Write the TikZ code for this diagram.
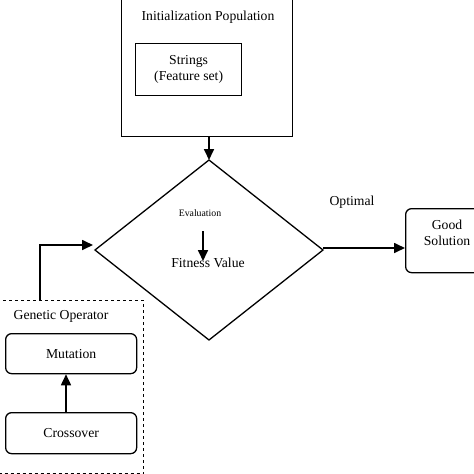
\documentclass[tikz,border=0pt]{standalone}
\usepackage{fontspec}
\setmainfont{Liberation Serif}
\usetikzlibrary{arrows.meta,shapes.geometric}
\begin{document}
\begin{tikzpicture}[x=1pt,y=-1pt,
  line width=1.3pt,
  arr/.style={-{Triangle[length=11pt,width=10pt]},line width=1.7pt},
  lbl/.style={font=\fontsize{13.7}{15.5}\selectfont, align=center, inner sep=0pt},
  rbox/.style={draw, rounded corners=6pt, line width=1.3pt}]
\useasboundingbox (0,0) rectangle (474,474);
% top box
\node[draw, minimum width=171pt, minimum height=138pt, anchor=north west, inner sep=0pt] (init) at (121,-2) {};
\node[lbl] (initt) at (208,17) {Initialization Population};
\node[draw, minimum width=106pt, minimum height=52pt, anchor=north west, inner sep=0pt, lbl] (str) at (135,43) {Strings\\(Feature set)};
% diamond
\coordinate (dt) at (209,160);
\coordinate (dl) at (95,250);
\coordinate (dr) at (323,250);
\coordinate (db) at (209,340);
\draw (dt) -- (dr) -- (db) -- (dl) -- cycle;
\node[inner sep=0pt, font=\fontsize{9.8}{11}\selectfont] (eval) at (200,213) {Evaluation};
\node[lbl] (fit) at (208,263) {Fitness Value};
\coordinate (ea) at (203,231);
\draw[arr] (ea) -- (203,261);
\draw[arr] (init.south -| dt) -- (dt);
% good solution
\node[rbox, minimum width=80pt, minimum height=64pt, anchor=north west, lbl] (good) at (405,208) {};
\node[lbl] (goodt) at (447,233) {Good\\Solution};
\node[lbl] (opt) at (352,202) {Optimal};
\draw[arr] (dr |- 0,248) -- (good.west |- 0,248);
% genetic operator
\node[draw, dashed, line width=1pt, minimum width=145pt, minimum height=173pt, anchor=north west, inner sep=0pt] (gen) at (-2,300) {};
\node[lbl] (gent) at (61,316) {Genetic Operator};
\node[rbox, minimum width=131pt, minimum height=40pt, anchor=north west, lbl] (mut) at (5,333) {Mutation};
\node[rbox, minimum width=131pt, minimum height=41pt, anchor=north west, lbl] (cross) at (5,412) {Crossover};
\draw[arr] (cross.north -| 66,0) -- (mut.south -| 66,0);
\coordinate (corner) at (40,245);
\draw[arr] (gen.north -| corner) -- (corner) -- (93,245);
\end{tikzpicture}
\end{document}
